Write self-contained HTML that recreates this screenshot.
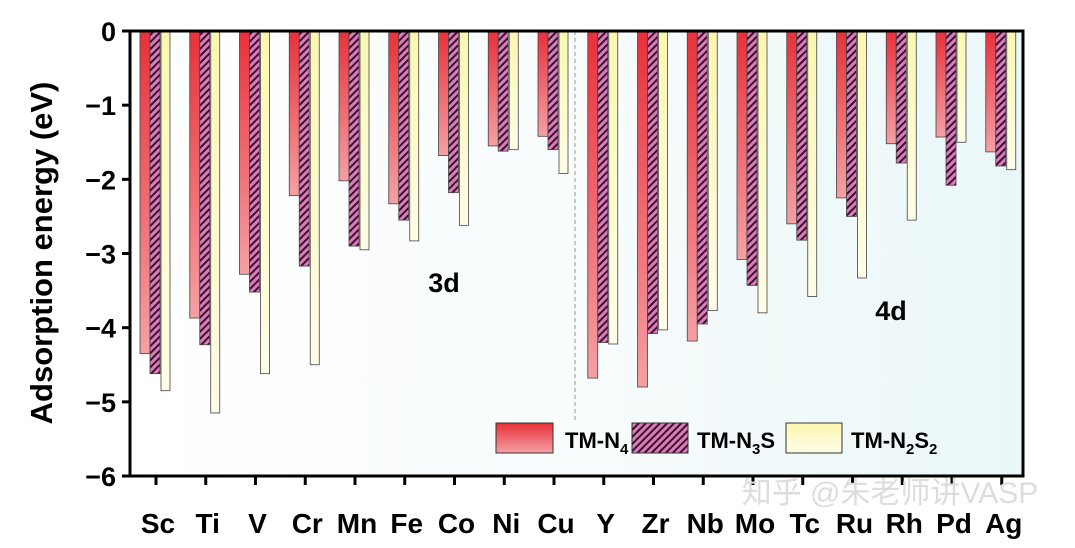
<!DOCTYPE html>
<html><head><meta charset="utf-8"><style>
body{margin:0;background:#fff;width:1075px;height:543px;overflow:hidden}
svg text{font-family:"Liberation Sans",sans-serif;font-weight:bold}
</style></head><body>
<svg id="chart" width="1075" height="543">
<defs>
<linearGradient id="bg" x1="0" x2="1" y1="0" y2="0"><stop offset="0" stop-color="#ffffff"/><stop offset="0.5" stop-color="#f8fcfc"/><stop offset="1" stop-color="#eaf7f9"/></linearGradient>
<linearGradient id="red" x1="0" x2="0" y1="0" y2="1"><stop offset="0" stop-color="#e8303a"/><stop offset="1" stop-color="#f4a0a4"/></linearGradient>
<pattern id="hatch" width="5" height="5" patternUnits="userSpaceOnUse" patternTransform="rotate(45)"><rect width="5" height="5" fill="#d97cb8"/><rect width="2" height="5" fill="#3a1030"/></pattern>
<linearGradient id="yel" x1="0" x2="0" y1="0" y2="1"><stop offset="0" stop-color="#fbf7b0"/><stop offset="1" stop-color="#fffde8"/></linearGradient>
</defs>
<rect x="130" y="31" width="893" height="445" fill="url(#bg)"/>
<g id="bars"></g>
<line x1="575" y1="31" x2="575" y2="420" stroke="#999" stroke-dasharray="4,3"/>
<text x="444" y="292" font-size="27" text-anchor="middle">3d</text>
<text x="891" y="320" font-size="27" text-anchor="middle">4d</text>
<g id="axes"></g>
<g>
<rect x="496" y="423" width="57" height="30" fill="url(#red)" stroke="#333"/>
<text x="565" y="448" font-size="22">TM-N<tspan font-size="15" dy="6">4</tspan></text>
<rect x="632" y="423" width="56" height="30" fill="url(#hatch)" stroke="#333"/>
<text x="697" y="448" font-size="22">TM-N<tspan font-size="15" dy="6">3</tspan><tspan dy="-6">S</tspan></text>
<rect x="786" y="423" width="56" height="30" fill="url(#yel)" stroke="#333"/>
<text x="851" y="448" font-size="22">TM-N<tspan font-size="15" dy="6">2</tspan><tspan dy="-6">S</tspan><tspan font-size="15" dy="6">2</tspan></text>
</g>
<g id="labels"></g>
<text x="890" y="503" font-size="30" fill="#ddd" style="font-family:'Liberation Sans','Noto Sans CJK SC',sans-serif;font-weight:normal" text-anchor="middle">知乎 @朱老师讲VASP</text>
<text transform="translate(52,253) rotate(-90)" font-size="31" text-anchor="middle">Adsorption energy (eV)</text>
</svg>
<script>
const categories=["Sc","Ti","V","Cr","Mn","Fe","Co","Ni","Cu","Y","Zr","Nb","Mo","Tc","Ru","Rh","Pd","Ag"];
const n4=[-4.35,-3.87,-3.28,-2.22,-2.02,-2.33,-1.68,-1.55,-1.42,-4.68,-4.8,-4.18,-3.08,-2.6,-2.25,-1.52,-1.43,-1.63];
const n3s=[-4.62,-4.23,-3.52,-3.17,-2.9,-2.55,-2.18,-1.62,-1.6,-4.2,-4.08,-3.95,-3.43,-2.82,-2.5,-1.78,-2.08,-1.82];
const n2s2=[-4.85,-5.15,-4.62,-4.5,-2.95,-2.83,-2.62,-1.6,-1.92,-4.22,-4.03,-3.77,-3.8,-3.58,-3.33,-2.55,-1.5,-1.87];
const yTicks=[0,-1,-2,-3,-4,-5,-6];
const NS="http://www.w3.org/2000/svg";
const y=v=>31+(-v)*74.17;
const xg=i=>140+i*49.75;
function mk(t,a,p){const e=document.createElementNS(NS,t);for(const k in a)e.setAttribute(k,a[k]);p.appendChild(e);return e;}
const bars=document.getElementById('bars'),axes=document.getElementById('axes'),labels=document.getElementById('labels');
const series=[[n4,'url(#red)',0,10],[n3s,'url(#hatch)',10,10],[n2s2,'url(#yel)',21,9]];
categories.forEach((c,i)=>{
 series.forEach((s,k)=>{
  const r=mk('rect',{x:xg(i)+s[2],y:y(0),width:s[3],height:y(s[0][i])-y(0),fill:s[1],stroke:'#444','stroke-width':0.8},bars);
  
  
 });
 const cx=xg(i)+16;
 const tk=mk('line',{x1:cx,x2:cx,y1:476,y2:485,stroke:'#000','stroke-width':3},axes);
 
 
 const t=mk('text',{x:cx+2,y:533,'font-size':28,'text-anchor':'middle'},labels);
 t.textContent=c;
 
 
});
yTicks.forEach(v=>{
 const l=mk('line',{x1:122,x2:130,y1:y(v),y2:y(v),stroke:'#000','stroke-width':3},axes);
 
 
 const t=mk('text',{x:116,y:y(v)+10,'font-size':27,'text-anchor':'end'},axes);
 t.textContent=v===0?'0':'\u2212'+(-v);
 
 
});
const fr=mk('rect',{x:130,y:31,width:893,height:445,fill:'none',stroke:'#000','stroke-width':3},axes);


</script>
</body></html>
